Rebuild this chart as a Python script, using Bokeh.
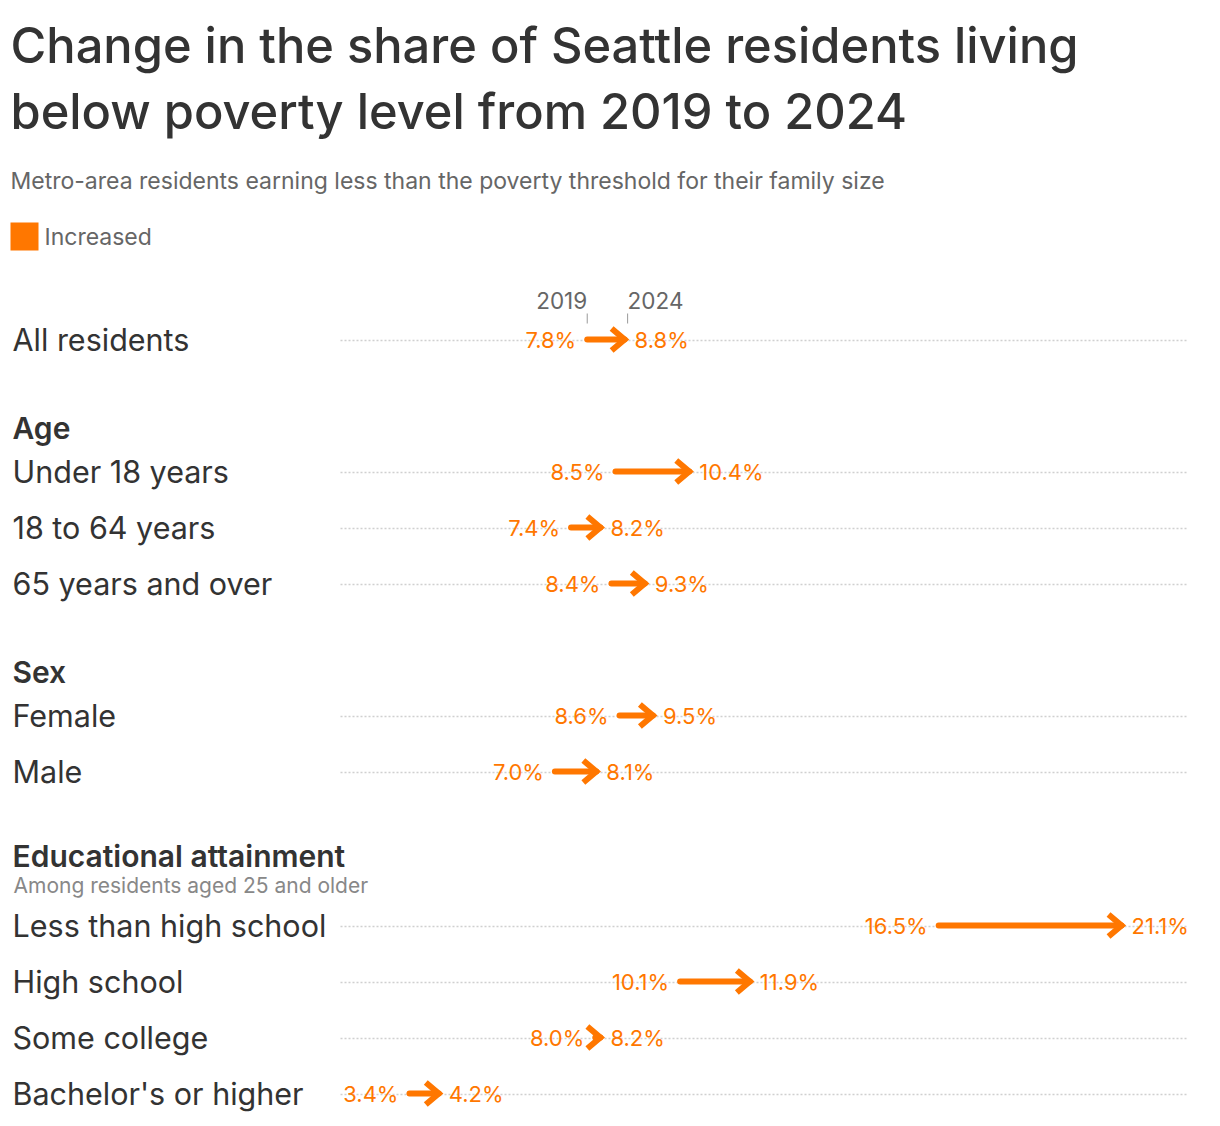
from bokeh.plotting import figure
from bokeh.models import Range1d, ColumnDataSource, LabelSet, Label
from bokeh.core.properties import value
from bokeh.embed import file_html
from bokeh.resources import INLINE

# ---------------- data ----------------
categories = ["All residents", "Under 18 years", "18 to 64 years", "65 years and over",
              "Female", "Male",
              "Less than high school", "High school", "Some college", "Bachelor's or higher"]
groups = ["", "Age", "Age", "Age", "Sex", "Sex",
          "Educational attainment", "Educational attainment",
          "Educational attainment", "Educational attainment"]
group_notes = {"Educational attainment": "Among residents aged 25 and older"}
v2019 = [7.8, 8.5, 7.4, 8.4, 8.6, 7.0, 16.5, 10.1, 8.0, 3.4]
v2024 = [8.8, 10.4, 8.2, 9.3, 9.5, 8.1, 21.1, 11.9, 8.2, 4.2]
years = ["2019", "2024"]

TITLE = ["Change in the share of Seattle residents living",
         "below poverty level from 2019 to 2024"]
SUBTITLE = "Metro-area residents earning less than the poverty threshold for their family size"
LEGEND = "Increased"

# ---------------- style / layout ----------------
FONT = "Inter"
TITLE_FONT = "Inter Medium"
HEAD_FONT = "Inter SemiBold"
ORANGE = "#FF7700"
DARK = "#333333"
GREY = "#666666"
LIGHT = "#888888"
W, H = 1204, 1118
XSCALE = 40.4           # px per percentage point
X0PX = 271.6            # figure px of 0 %
ROW_STEP = 56
GROUP_GAP = 76
NOTE_GAP = 22
FIRST_Y = 339
HEAD_DX, HEAD_DY, TIP_BACK = 13, 11, 3   # chevron size in px


def px2x(px):
    return (px - X0PX) / XSCALE


# compute row y positions (figure pixels from top)
row_y = []
header_y = []
note_y = []
y = FIRST_Y
prev = None
for i, g in enumerate(groups):
    if i > 0:
        y += ROW_STEP
        if g != prev:
            y += GROUP_GAP
            if g in group_notes:
                y += NOTE_GAP
    if g != prev and g:
        hy = y - 44 - (26 if g in group_notes else 0)
        header_y.append((g, hy))
        if g in group_notes:
            note_y.append((group_notes[g], y - 40))
    row_y.append(y)
    prev = g

p = figure(width=W, height=H, x_range=Range1d(px2x(0), px2x(W)), y_range=Range1d(H, 0),
           toolbar_location=None, output_backend="svg", min_border=0,
           x_axis_location=None, y_axis_location=None)
p.grid.visible = False
p.outline_line_color = None
p.background_fill_color = "white"
p.border_fill_color = "white"

tip = [b - TIP_BACK / XSCALE for b in v2024]
src = ColumnDataSource(dict(
    cat=categories, y=row_y, y_line=[v + 1 for v in row_y], a=v2019, b=v2024, tip=tip,
    a_lab=[f"{v:.1f}%" for v in v2019], b_lab=[f"{v:.1f}%" for v in v2024],
    lx0=[px2x(340)] * len(categories), lx1=[px2x(1186)] * len(categories),
    hx=[[t - HEAD_DX / XSCALE, t, t - HEAD_DX / XSCALE] for t in tip],
    hy=[[yy - HEAD_DY, yy, yy + HEAD_DY] for yy in row_y],
))

# dotted guide lines
p.segment(x0="lx0", y0="y_line", x1="lx1", y1="y_line", source=src,
          line_color="#d0d0d0", line_width=1.5, line_dash="2 2")

# arrow bodies and chevron heads
p.segment(x0="a", y0="y", x1="tip", y1="y", source=src,
          line_color=ORANGE, line_width=6, line_cap="round")
p.multi_line(xs="hx", ys="hy", source=src, line_color=ORANGE, line_width=6,
             line_join="miter", line_cap="butt")

# value labels
p.add_layout(LabelSet(x="a", y="y", text="a_lab", source=src, x_offset=-11,
                      text_align="right", text_baseline="middle",
                      text_font=value(FONT), text_font_size="22px", text_color=ORANGE))
p.add_layout(LabelSet(x="b", y="y", text="b_lab", source=src, x_offset=7,
                      text_align="left", text_baseline="middle",
                      text_font=value(FONT), text_font_size="22px", text_color=ORANGE))

# row labels
p.add_layout(LabelSet(x=12, x_units="screen", y="y", text="cat", source=src,
                      text_align="left", text_baseline="middle",
                      text_font=value(FONT), text_font_size="30.5px", text_color=DARK))

# group headers
for g, hy in header_y:
    p.add_layout(Label(x=12, x_units="screen", y=hy, text=g, text_align="left",
                       text_baseline="middle", text_font=HEAD_FONT, text_font_size="30px",
                       text_color=DARK))
for n, ny in note_y:
    p.add_layout(Label(x=13, x_units="screen", y=ny, text=n, text_align="left",
                       text_baseline="middle", text_font=FONT, text_font_size="21px",
                       text_color=LIGHT))

# year markers above first row
p.segment(x0=[v2019[0], v2024[0]], y0=[row_y[0] - 26] * 2,
          x1=[v2019[0], v2024[0]], y1=[row_y[0] - 16] * 2,
          line_color="#999999", line_width=1)
p.add_layout(Label(x=v2019[0], y=row_y[0] - 39, text=years[0], text_align="right",
                   text_baseline="middle", text_font=FONT, text_font_size="22.5px",
                   text_color=GREY))
p.add_layout(Label(x=v2024[0], y=row_y[0] - 39, text=years[1], text_align="left",
                   text_baseline="middle", text_font=FONT, text_font_size="22.5px",
                   text_color=GREY))

# title, subtitle, legend
for i, t in enumerate(TITLE):
    p.add_layout(Label(x=10, x_units="screen", y=45 + 66 * i, text=t, text_align="left",
                       text_baseline="middle", text_font=TITLE_FONT, text_font_size="48.8px",
                       text_color=DARK))
p.add_layout(Label(x=10, x_units="screen", y=180, text=SUBTITLE, text_align="left",
                   text_baseline="middle", text_font=FONT, text_font_size="23px",
                   text_color=GREY))
p.scatter(x=[px2x(24)], y=[236], marker="square", size=28, fill_color=ORANGE, line_color=None)
p.add_layout(Label(x=44, x_units="screen", y=236, text=LEGEND, text_align="left",
                   text_baseline="middle", text_font=FONT, text_font_size="23px",
                   text_color=GREY))

open("out.html", "w").write(file_html(p, INLINE))
